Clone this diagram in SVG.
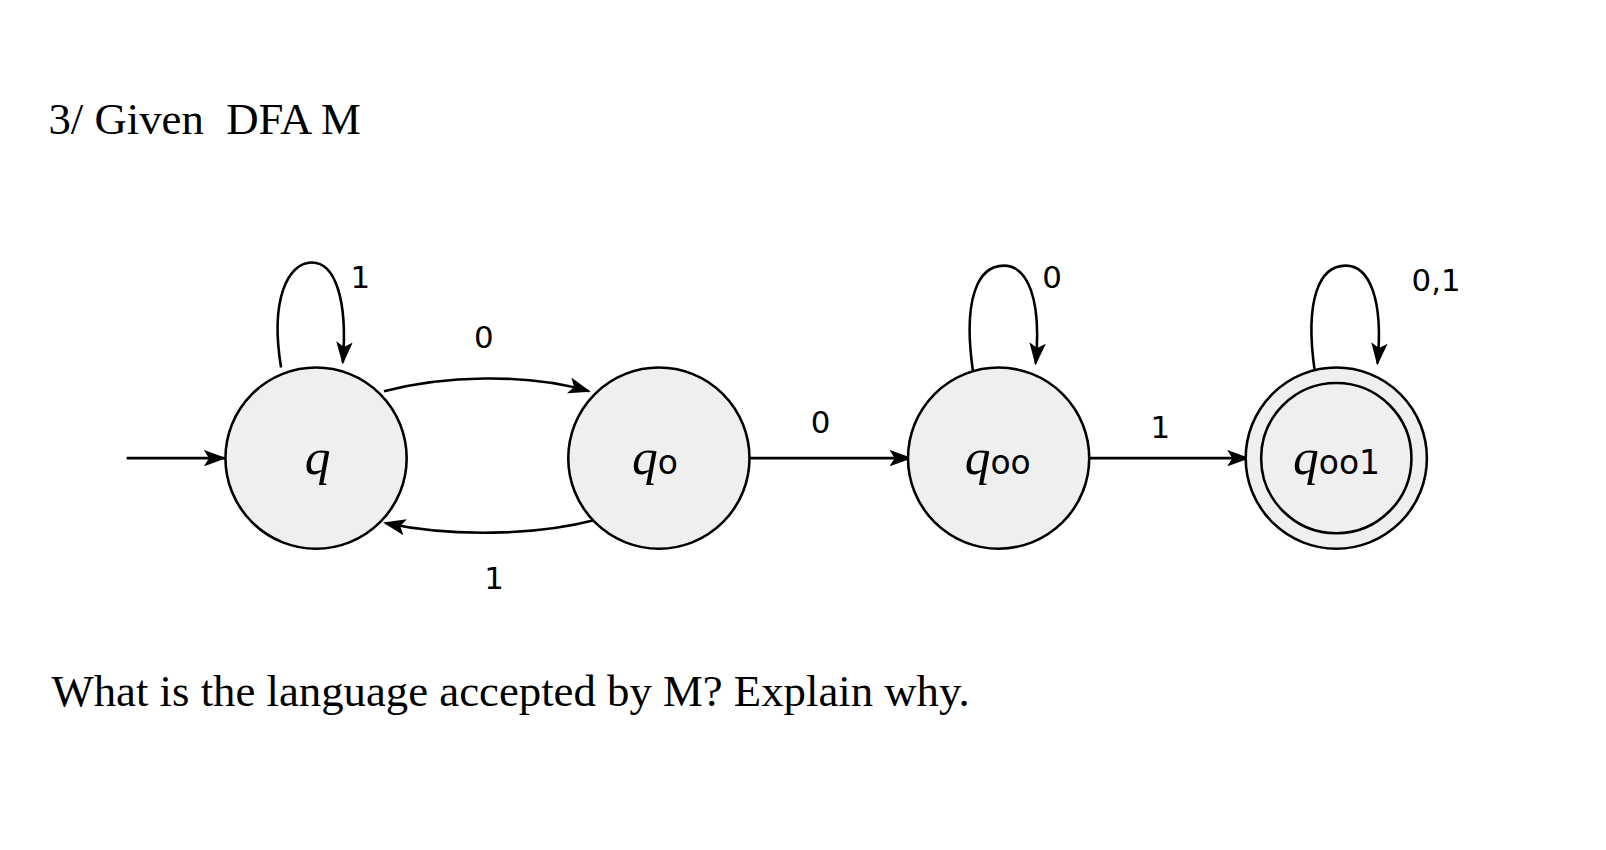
<svg xmlns="http://www.w3.org/2000/svg" width="1606" height="850" viewBox="0 0 1606 850">
<style>
.st{fill:#efefef;stroke:#000;stroke-width:2.5}
.e{fill:none;stroke:#000;stroke-width:2.5}
.t{font-family:"Liberation Serif",serif;font-size:43.5px}
.lb{font-family:"DejaVu Sans",sans-serif;font-size:30px}
.q{font-family:"Liberation Serif",serif;font-style:italic;font-size:50px}
.s{font-family:"DejaVu Sans",sans-serif;font-style:normal;font-size:32px}
</style>
<defs><marker id="a" markerWidth="22" markerHeight="16" refX="20" refY="8" orient="auto" markerUnits="userSpaceOnUse"><path d="M0,0 L22,8 L0,16 L5,8 Z"/></marker></defs>
<rect width="1606" height="850" fill="#fff"/>
<g transform="scale(1.0295)">
<text class="t" x="47" y="130" xml:space="preserve">3/ Given  DFA M</text>
<text class="t" x="50" y="686">What is the language accepted by M? Explain why.</text>
<g id="connectors">
<line class="e" x1="123" y1="445" x2="218" y2="445" marker-end="url(#a)"/>
<path class="e" d="M273,357 C262,290 280,255 303,255 C325,255 338,290 333,352" marker-end="url(#a)"/>
<path class="e" d="M373,380 C430,365 510,362 572,380" marker-end="url(#a)"/>
<path class="e" d="M578,505 C520,520 440,522 374,508" marker-end="url(#a)"/>
<line class="e" x1="728" y1="445" x2="884" y2="445" marker-end="url(#a)"/>
<path class="e" d="M945,360 C935,290 950,258 975,258 C998,258 1012,290 1006,353" marker-end="url(#a)"/>
<line class="e" x1="1058" y1="445" x2="1212" y2="445" marker-end="url(#a)"/>
<path class="e" d="M1277,360 C1267,290 1282,258 1307,258 C1330,258 1344,290 1338,353" marker-end="url(#a)"/>
<text class="lb" x="350" y="280" text-anchor="middle">1</text>
<text class="lb" x="470" y="338" text-anchor="middle">0</text>
<text class="lb" x="480" y="572" text-anchor="middle">1</text>
<text class="lb" x="797" y="421" text-anchor="middle">0</text>
<text class="lb" x="1022" y="280" text-anchor="middle">0</text>
<text class="lb" x="1127" y="425" text-anchor="middle">1</text>
<text class="lb" x="1395" y="283" text-anchor="middle" xml:space="preserve">0,1</text>
</g>
<g id="q"><circle class="st" cx="307" cy="445" r="88"/><text class="q" x="296" y="460">q</text></g>
<g id="q0"><circle class="st" cx="640" cy="445" r="88"/><text class="q" x="614" y="460">q<tspan class="s">o</tspan></text></g>
<g id="q00"><circle class="st" cx="970" cy="445" r="88"/><text class="q" x="937" y="460">q<tspan class="s">oo</tspan></text></g>
<g id="q001"><circle class="st" cx="1298" cy="445" r="88"/><circle class="e" cx="1298" cy="445" r="73"/><text class="q" x="1256" y="460">q<tspan class="s">oo1</tspan></text></g>
</g>
</svg>
